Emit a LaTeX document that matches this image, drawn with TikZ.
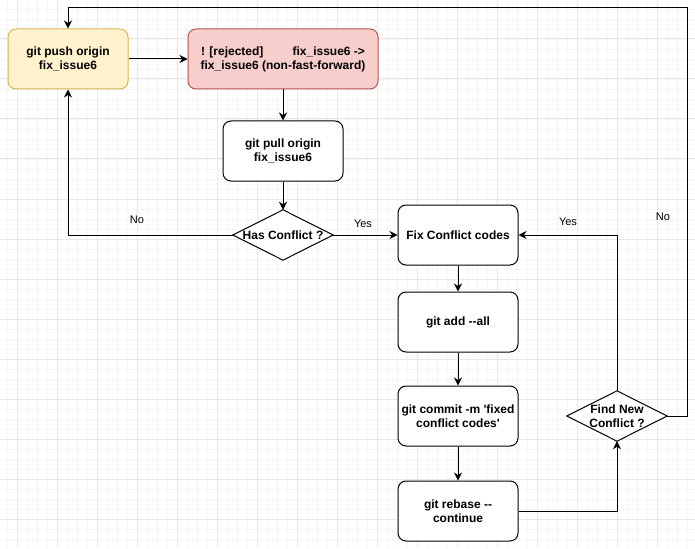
\documentclass[tikz,border=0pt]{standalone}
\usepackage{fontspec}
\setmainfont{Liberation Sans}
\usetikzlibrary{arrows.meta}
\definecolor{gridmajor}{HTML}{E8E8E8}
\definecolor{gridminor}{HTML}{F6F6F6}
\definecolor{yelfill}{HTML}{FFF2CC}
\definecolor{yelline}{HTML}{D6B656}
\definecolor{redfill}{HTML}{F8CECC}
\definecolor{redline}{HTML}{B85450}
\begin{document}
\begin{tikzpicture}[x=1pt,y=-1pt,
  box/.style={draw, rounded corners=8pt, minimum width=120pt, minimum height=60pt,
    align=center, inner sep=2pt, line width=1pt, fill=white,
    font=\bfseries\fontsize{12}{14}\selectfont},
  decision/.style={minimum width=100pt, minimum height=50pt, inner sep=0pt, align=center,
    font=\bfseries\fontsize{12}{14}\selectfont},
  conn/.style={line width=1pt, -{Stealth[length=8pt,width=8pt,inset=2.5pt]}},
  lab/.style={font=\fontsize{11}{13}\selectfont, inner sep=0pt}
]
\useasboundingbox (0,0) rectangle (695,548);
\fill[white] (0,0) rectangle (695,548);
% grid
\foreach \x in {7,17,...,695} \draw[gridminor, line width=0.8pt] (\x,0) -- (\x,548);
\foreach \y in {9,19,...,548} \draw[gridminor, line width=0.8pt] (0,\y) -- (695,\y);
\foreach \x in {17,57,...,695} \draw[gridmajor, line width=1pt] (\x,0) -- (\x,548);
\foreach \y in {39,79,...,548} \draw[gridmajor, line width=1pt] (0,\y) -- (695,\y);

% nodes
\node[box, fill=yelfill, draw=yelline] (push) at (68,59) {git push origin\\fix\_issue6};
\node[box, fill=redfill, draw=redline, minimum width=190pt] (rej) at (283,59)
  {\makebox[164pt]{! [rejected]\hfill fix\_issue6 ->}\\fix\_issue6 (non-fast-forward)};
\node[box] (pull) at (283,151) {git pull origin\\fix\_issue6};
\node[decision] (hc) at (283,235) {};
\draw[line width=1pt, fill=white] (hc.north) -- (hc.east) -- (hc.south) -- (hc.west) -- cycle;
\node[decision] at (283,235) {Has Conflict ?};

\node[box] (fix) at (458,235) {Fix Conflict codes};
\node[box] (add) at (458,322) {git add -{}-all};
\node[box] (commit) at (458,416) {git commit -m \textquotesingle fixed\\conflict codes\textquotesingle};
\node[box] (rebase) at (458,511) {git rebase -{}-\\continue};

\node[decision] (fnc) at (617,416) {};
\draw[line width=1pt, fill=white] (fnc.north) -- (fnc.east) -- (fnc.south) -- (fnc.west) -- cycle;
\node[decision] at (617,416) {Find New\\Conflict ?};

\coordinate (tr) at (687,8);

% connectors
\draw[conn] (push.east) -- (rej.west);
\draw[conn] (rej.south) -- (pull.north);
\draw[conn] (pull.south) -- (hc.north);
\draw[conn] (hc.east) -- (fix.west);
\draw[conn] (hc.west) -| (push.south);
\draw[conn] (fix.south) -- (add.north);
\draw[conn] (add.south) -- (commit.north);
\draw[conn] (commit.south) -- (rebase.north);
\draw[conn] (rebase.east) -| (fnc.south);
\draw[conn] (fnc.north) |- (fix.east);
\draw[conn] (fnc.east) -| (tr) -| (push.north);

% labels
\node[lab] at (137,220) {No};
\node[lab] at (363,224) {Yes};
\node[lab] at (568,222) {Yes};
\node[lab] at (663,217) {No};
\end{tikzpicture}
\end{document}
